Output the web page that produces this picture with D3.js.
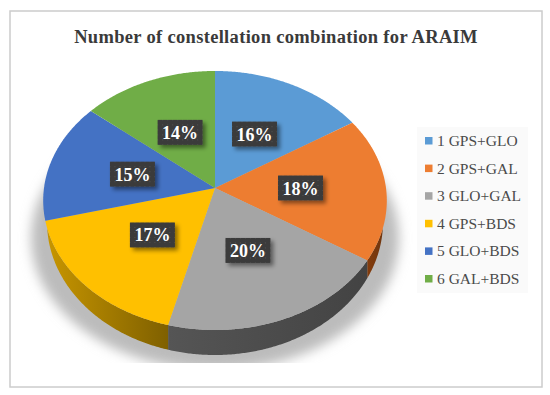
<!DOCTYPE html>
<html><head><meta charset="utf-8"><script src="https://cdn.jsdelivr.net/npm/d3@7"></script>
<style>html,body{margin:0;padding:0;background:#fff}svg{display:block}text{font-family:"Liberation Serif",serif}</style></head>
<body><div id="chart"></div>
<script>
const categories=["1 GPS+GLO","2 GPS+GAL","3 GLO+GAL","4 GPS+BDS","5 GLO+BDS","6 GAL+BDS"];
const values=[16,18,20,17,15,14];
const colors=["#5b9bd5","#ed7d31","#a5a5a5","#ffc000","#4472c4","#70ad47"];
const wallLeft=["#2a4a6a","#843c0c","#555555","#c89600","#2f4f8a","#3a5e24"];
const wallRight=["#2a4a6a","#6b3410","#434343","#7f6000","#2f4f8a","#3a5e24"];
const title="Number of constellation combination for ARAIM";

const W=550,H=395,cx=215,cy=188,a=171,b=128.3,k=0.0965;
const botCy=222,botRx=168,botRy=133;
// perspective projection of a point at fraction r of the radius, angle t clockwise from top
const proj=(t,r)=>{const u=r*Math.sin(t),v=-r*Math.cos(t),d=1-k*v;return [cx+a*u/d,cy+b*v/d];};

const svg=d3.select("#chart").append("svg").attr("width",W).attr("height",H);
const defs=svg.append("defs");
const blur=defs.append("filter").attr("id","blur").attr("x","-20%").attr("y","-20%").attr("width","140%").attr("height","140%");
blur.append("feGaussianBlur").attr("stdDeviation",6);
const ds=defs.append("filter").attr("id","ds").attr("x","-20%").attr("y","-20%").attr("width","150%").attr("height","150%");
ds.append("feDropShadow").attr("dx",3).attr("dy",3).attr("stdDeviation",2).attr("flood-color","#000").attr("flood-opacity",.45);
defs.append("clipPath").attr("id","shadowClip").append("rect").attr("x",0).attr("y",0).attr("width",W).attr("height",363);
const dots=defs.append("pattern").attr("id","dots").attr("patternUnits","userSpaceOnUse").attr("width",5).attr("height",5);
dots.append("rect").attr("width",5).attr("height",5).attr("fill","#3b3b3b");
dots.append("rect").attr("x",2).attr("y",2).attr("width",1).attr("height",1).attr("fill","#505050");

svg.append("rect").attr("x",10).attr("y",11).attr("width",532).attr("height",376).attr("fill","#fff").attr("stroke","#cccccc").attr("stroke-width",1.5);
svg.append("text").attr("x",276).attr("y",43).attr("text-anchor","middle").attr("font-size",18.5).attr("font-weight","bold").attr("letter-spacing",0.32).attr("fill","#3a3a3a").text(title);

svg.append("g").attr("clip-path","url(#shadowClip)").append("ellipse").attr("cx",cx).attr("cy",238).attr("rx",184).attr("ry",132).attr("fill","#bcbcbc").attr("filter","url(#blur)");

const pie=d3.pie().sort(null).value(d=>d)(values);
const step=0.008;
const angles=(t0,t1)=>d3.range(t0,t1,step).concat([t1]);
const line=d3.line();
const lo=Math.PI/2,hi=3*Math.PI/2;
const wallG=svg.append("g");
pie.forEach((p,i)=>{
  const t0=Math.max(p.startAngle,lo),t1=Math.min(p.endAngle,hi);
  if(t1<=t0)return;
  const id="wall"+i;
  const g=defs.append("linearGradient").attr("id",id);
  g.append("stop").attr("offset",0).attr("stop-color",wallLeft[i]);
  g.append("stop").attr("offset",1).attr("stop-color",wallRight[i]);
  const top=angles(t0,t1).map(t=>proj(t,1));
  const bot=top.slice().reverse().map(([x,y])=>{
    const q=(x-cx)/botRx;
    const yb=Math.abs(q)<1?botCy+botRy*Math.sqrt(1-q*q):y;
    return [x,Math.max(y,yb)];
  });
  wallG.append("path").attr("d",line(top.concat(bot))+"Z").attr("fill",`url(#${id})`);
});

svg.append("g").selectAll("path").data(pie).join("path")
  .attr("d",d=>line([[cx,cy]].concat(angles(d.startAngle,d.endAngle).map(t=>proj(t,1))))+"Z")
  .attr("fill",(d,i)=>colors[i]);

const boxW=45,boxH=25,labelR=0.5;
const labels=svg.append("g").selectAll("g").data(pie).join("g").attr("transform",d=>{
  const [x,y]=proj((d.startAngle+d.endAngle)/2,labelR);
  return `translate(${x},${y})`;
});
labels.append("rect").attr("x",-boxW/2).attr("y",-boxH/2).attr("width",boxW).attr("height",boxH).attr("fill","url(#dots)").attr("filter","url(#ds)");
labels.append("text").attr("text-anchor","middle").attr("y",6.5).attr("font-size",18).attr("font-weight","bold").attr("fill","#fff").text(d=>d.value+"%");

svg.append("rect").attr("x",417).attr("y",127).attr("width",111).attr("height",166).attr("fill","#fafafa");
const legendY=d3.scalePoint().domain(categories).range([141,279]);
const leg=svg.append("g").selectAll("g").data(categories).join("g").attr("transform",d=>`translate(425,${legendY(d)})`);
leg.append("rect").attr("y",-4).attr("width",7.5).attr("height",7.5).attr("fill",(d,i)=>colors[i]);
leg.append("text").attr("x",12).attr("y",5).attr("font-size",15.5).attr("fill","#4a4a4a").text(d=>d);
</script></body></html>
